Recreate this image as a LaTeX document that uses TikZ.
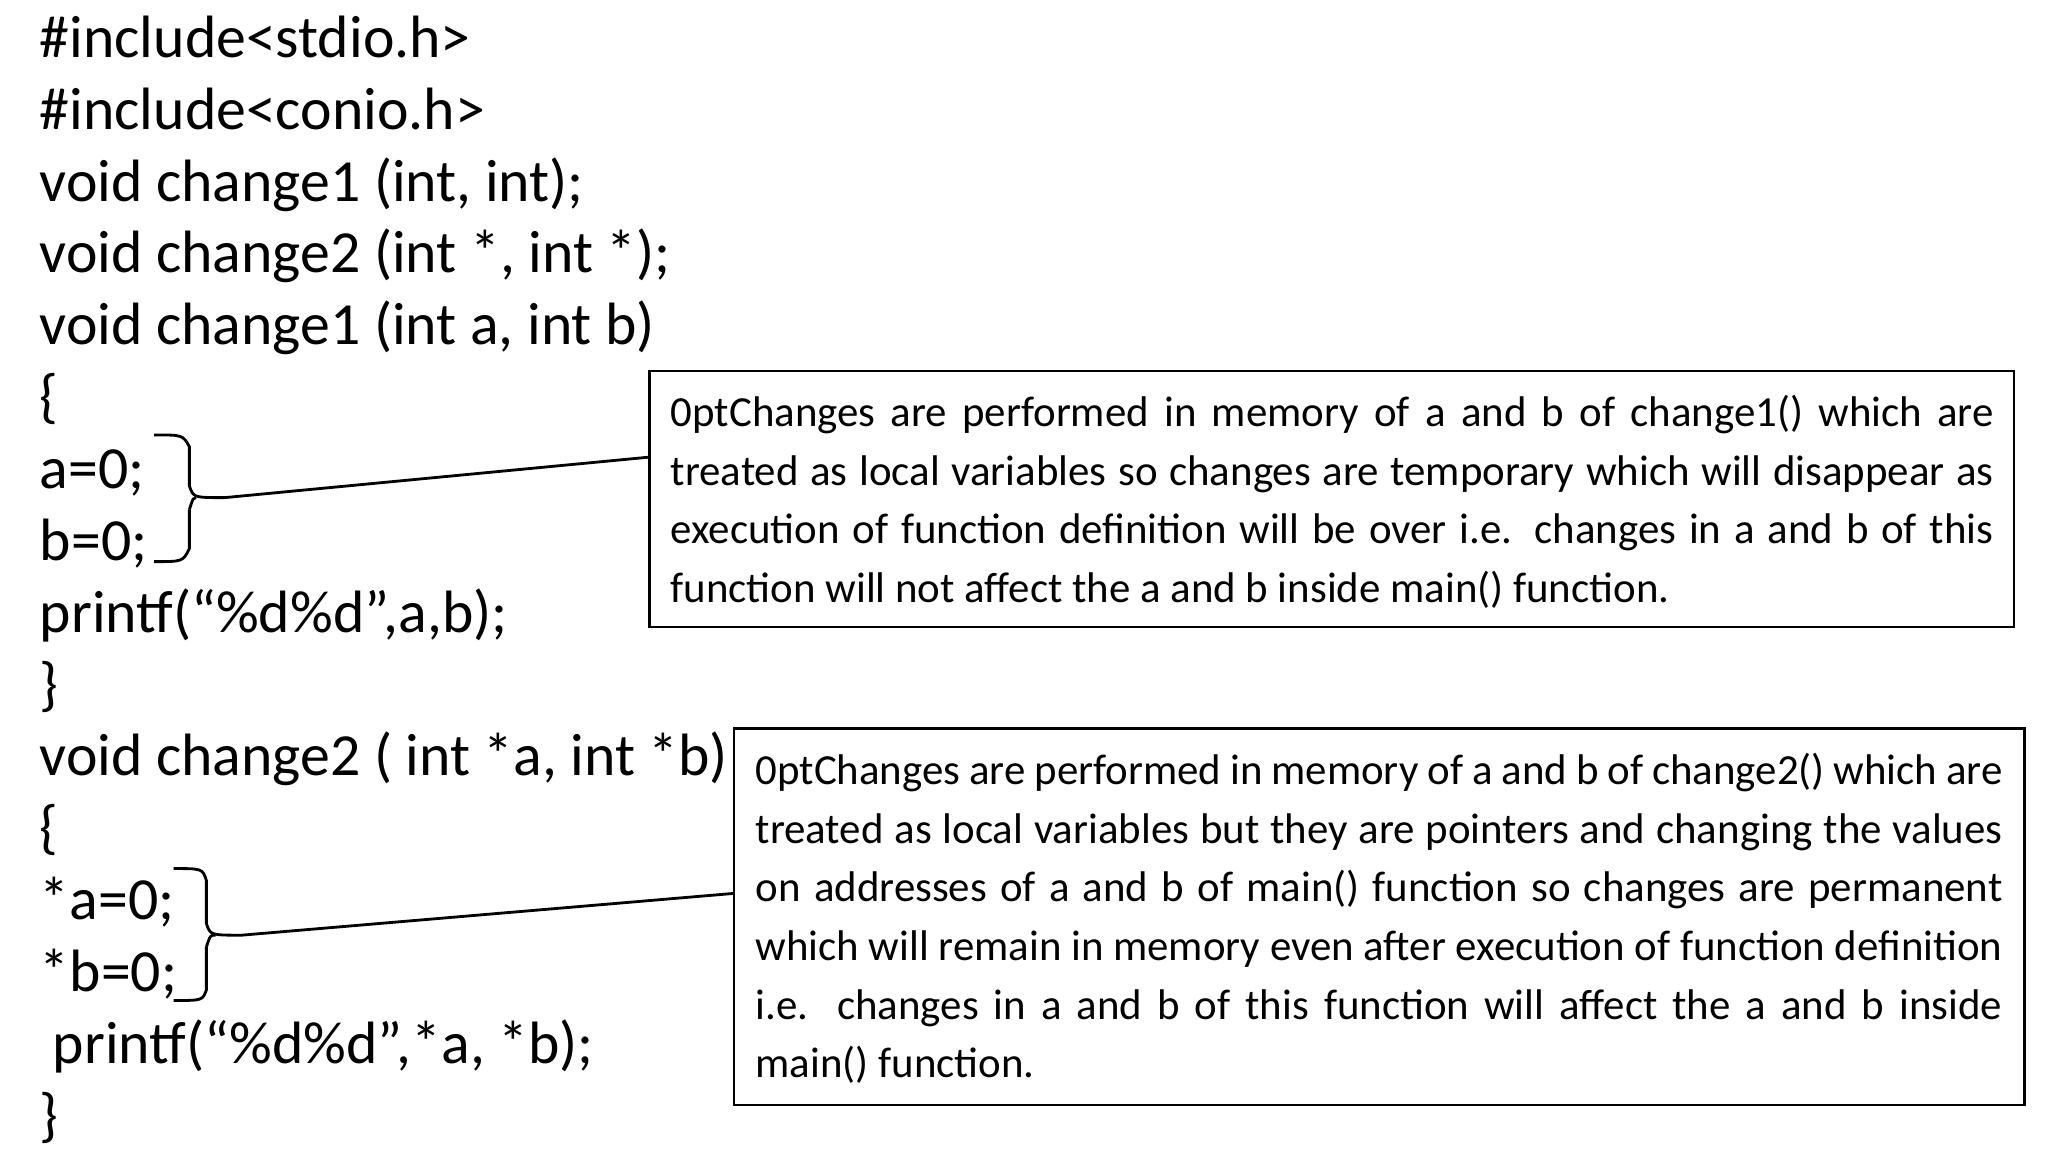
\documentclass[tikz,border=0pt]{standalone}
\usepackage{fontspec}
\setmainfont{Carlito}
\begin{document}
\begin{tikzpicture}[x=0.01306cm,y=-0.01306cm,
 code/.style={anchor=base west,inner sep=0pt,font=\fontsize{17pt}{20pt}\selectfont},
 note/.style={anchor=north west,inner sep=0pt,align=justify,font=\fontsize{12.2pt}{16.7pt}\selectfont\hyphenpenalty=10000\exhyphenpenalty=10000},
 box/.style={draw,line width=0.8pt},
 br/.style={draw,line width=0.8pt}]
\useasboundingbox (0,0) rectangle (1568,882);
\node[code] (l1) at (30,44) {\#include<stdio.h>};
\node[code] (l2) at (30,99) {\#include<conio.h>};
\node[code] (l3) at (30,154) {void change1 (int, int);};
\node[code] (l4) at (30,209) {void change2 (int *, int *);};
\node[code] (l5) at (30,264) {void change1 (int a, int b)};
\node[code] (l6) at (30,319) {\{};
\node[code] (l7) at (30,374) {a=0;};
\node[code] (l8) at (30,429) {b=0;};
\node[code] (l9) at (30,484) {printf(“\%d\%d”,a,b);};
\node[code] (l10) at (30,539) {\}};
\node[code] (l11) at (30,594) {void change2 ( int *a, int *b)};
\node[code] (l12) at (30,649) {\{};
\node[code] (l13) at (30,704) {*a=0;};
\node[code] (l14) at (30,759) {*b=0;};
\node[code] (l15) at (40,814) {printf(“\%d\%d”,*a, *b);};
\node[code] (l16) at (30,869) {\}};
% boxes
\draw[box] (497,284) rectangle (1542,480);
\node[minimum width=1045*0.01306cm,minimum height=196*0.01306cm,anchor=north west,inner sep=0pt] (b1) at (497,284) {};
\node[note,text width=13.23cm] (t1) at (513,302) {Changes are performed in memory of a and b of change1() which are\linebreak treated as local variables so changes are temporary which will disappear as\linebreak execution of function definition will be over i.e. changes in a and b of this\linebreak function will not affect the a and b inside main() function.};
\draw[box] (562,558) rectangle (1550,846);
\node[minimum width=988*0.01306cm,minimum height=288*0.01306cm,anchor=north west,inner sep=0pt] (b2) at (562,558) {};
\node[note,text width=12.47cm] (t2) at (578,576) {Changes are performed in memory of a and b of change2() which are\linebreak treated as local variables but they are pointers and changing the values\linebreak on addresses of a and b of main() function so changes are permanent\linebreak which will remain in memory even after execution of function definition\linebreak i.e. changes in a and b of this function will affect the a and b inside\linebreak main() function.};
% braces
\coordinate (m1) at (172,381);
\draw[br] (118,333) .. controls (140,333) .. (145,342) -- (145,372) .. controls (148,381) .. (m1) -- (b1.west |- 0,350);
\draw[br] (145,390) -- (145,420) .. controls (140,430) .. (118,430);
\draw[br] (145,390) .. controls (148,381) .. (150,381);
\coordinate (m2) at (185,716);
\draw[br] (133,665) .. controls (155,665) .. (158,674) -- (158,707) .. controls (161,716) .. (m2) -- (b2.west |- 0,684);
\draw[br] (158,725) -- (158,758) .. controls (155,766) .. (133,766);
\draw[br] (158,725) .. controls (161,716) .. (165,716);
\end{tikzpicture}
\end{document}
